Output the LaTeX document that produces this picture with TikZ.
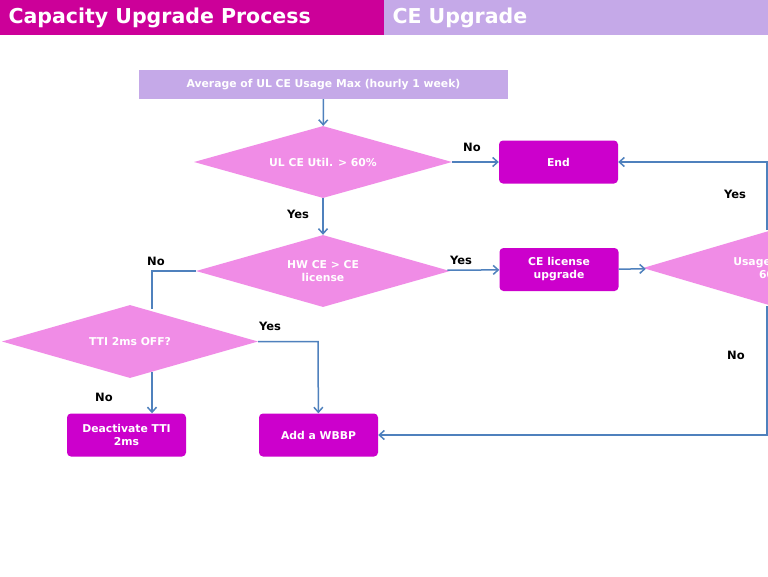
\documentclass[tikz,border=0pt]{standalone}
\usepackage{fontspec}
\setmainfont{DejaVu Sans}
\usetikzlibrary{shapes.geometric,arrows.meta}
\definecolor{mag}{HTML}{CC0099}
\definecolor{lav}{HTML}{C5A9E8}
\definecolor{dia}{HTML}{F08CE6}
\definecolor{box}{HTML}{CC00CC}
\definecolor{ln}{HTML}{4F81BD}
\tikzset{
  dec/.style={diamond,shape aspect=3.6,fill=dia,draw=none,minimum width=258pt,minimum height=72pt,inner sep=0pt,text=white,font=\fontsize{10.8}{13}\selectfont\bfseries,align=center},
  act/.style={rectangle,rounded corners=4pt,fill=box,minimum width=119pt,minimum height=43pt,text=white,font=\fontsize{10.8}{13}\selectfont\bfseries,align=center},
  con/.style={draw=ln,line width=1.5pt,-{Straight Barb[length=5pt,width=9pt]}},
  lbl/.style={font=\fontsize{11.5}{13}\selectfont\bfseries,text=black}
}
\begin{document}
\begin{tikzpicture}[x=1pt,y=-1pt]
\useasboundingbox (0,0) rectangle (768,576);
\clip (0,0) rectangle (768,576);
\fill[white] (0,0) rectangle (768,576);
\fill[mag] (0,0) rectangle (384,35);
\fill[lav] (384,0) rectangle (768,35);
\node[anchor=west,text=white,font=\fontsize{20.5}{22}\selectfont\bfseries] (t1) at (5,18) {Capacity Upgrade Process};
\node[anchor=west,text=white,font=\fontsize{20.5}{22}\selectfont\bfseries] (t2) at (389,18) {CE Upgrade};
\node[fill=lav,minimum width=369pt,minimum height=29pt,inner sep=0pt,text=white,font=\fontsize{10.8}{13}\selectfont\bfseries] (avg) at (323.5,84.5) {Average of UL CE Usage Max (hourly 1 week)};
\node[dec] (d1) at (323,162) {UL CE Util. > 60\%};
\node[act] (end) at (558.5,162) {End};
\node[dec,minimum width=254pt] (d2) at (323,271) {HW CE > CE\\license};
\node[act] (lic) at (559,269.5) {CE license\\upgrade};
\node[dec,minimum height=76pt] (d3) at (772,268) {Usage below\\60\%};
\node[dec,minimum width=256pt,minimum height=73pt] (d4) at (130,341.5) {TTI 2ms OFF?};
\node[act] (deact) at (126.5,435) {Deactivate TTI\\2ms};
\node[act] (wbbp) at (318.5,435) {Add a WBBP};
\coordinate (r1) at (767,162);
\coordinate (r2) at (767,435);
\coordinate (n1) at (152,271);
\coordinate (y1) at (318,341.5);
\draw[con] (avg) -- (d1);
\draw[con] (d1) -- (d2);
\draw[con] (d1) -- (end);
\draw[con] (d2) -- (lic);
\draw[con] (lic) -- (d3);
\draw[con] (d3.north -| r1) -- (r1) -- (end);
\draw[con] (d3.south -| r2) -- (r2) -- (wbbp);
\draw[con,-] (d2.west) -- (n1) -- (152,309);
\draw[con] (d4.east) -- (y1) -- (wbbp);
\draw[con] (152,372) -- (deact.north -| 152,0);
\node[lbl] (l1) at (472,147) {No};
\node[lbl] (l2) at (298,214) {Yes};
\node[lbl] (l3) at (461,260) {Yes};
\node[lbl] (l4) at (735,194) {Yes};
\node[lbl] (l5) at (736,355) {No};
\node[lbl] (l6) at (156,261) {No};
\node[lbl] (l7) at (270,326) {Yes};
\node[lbl] (l8) at (104,397) {No};
\end{tikzpicture}
\end{document}
